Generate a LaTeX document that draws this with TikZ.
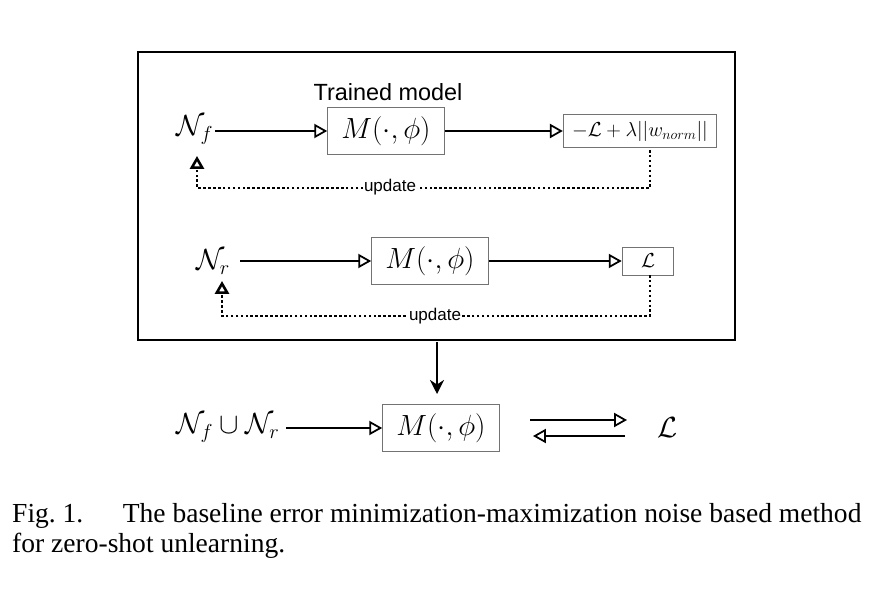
\documentclass[tikz,border=0pt]{standalone}
\usepackage{fontspec}
\usepackage{amsmath}
\setmainfont{Liberation Serif}
\setsansfont{Liberation Sans}
\usetikzlibrary{arrows.meta}
\begin{document}
\begin{tikzpicture}[x=0.03cm,y=-0.03cm,
  mbox/.style={draw=black!55,line width=0.8pt,minimum width=3.5cm,minimum height=1.4cm,font=\fontsize{25}{28}\selectfont},
  lbox/.style={draw=black!55,line width=0.8pt,inner sep=2pt},
  lab/.style={font=\fontsize{23}{26}\selectfont},
  arr/.style={line width=1.5pt,-{Triangle[open,length=11pt,width=12pt]}},
  dot/.style={line width=2.2pt,dotted,-{Triangle[open,length=11pt,width=12pt]}},
  upd/.style={font=\sffamily\fontsize{14.5}{16}\selectfont,fill=white,inner sep=1pt}]
\useasboundingbox (0,0) rectangle (874,596);
\draw[line width=1pt] (138,52) rectangle (735,340);
\node[font=\sffamily\fontsize{20}{22}\selectfont] (tm) at (388,92) {Trained model};
% row 1
\node[lab] (nf) at (195,130) {$\mathcal{N}_f$};
\node[mbox] (m1) at (386,131) {$M(\cdot,\phi)$};
\node[lbox,minimum width=4.6cm,minimum height=1cm,font=\fontsize{17}{20}\selectfont] (l1) at (640,131) {$-\mathcal{L}+\lambda||w_{norm}||$};
\draw[arr] (215,131) -- (m1.west);
\draw[arr] (m1.east) -- (l1.west);
\coordinate (c1) at (650,188);
\coordinate (c2) at (197,188);
\coordinate (t1) at (197,156);
\draw[dot] (650,150) -- (c1) -- (c2) -- (t1);
\node[upd] (u1) at (390,187) {update};
% row 2
\node[lab] (nr) at (213,262) {$\mathcal{N}_r$};
\node[mbox] (m2) at (430,261) {$M(\cdot,\phi)$};
\node[lbox,minimum width=1.55cm,minimum height=0.84cm,font=\fontsize{17}{20}\selectfont] (l2) at (648,261) {$\mathcal{L}$};
\draw[arr] (240,261) -- (m2.west);
\draw[arr] (m2.east) -- (l2.west);
\coordinate (c3) at (650,316);
\coordinate (c4) at (222,316);
\coordinate (t2) at (222,281);
\draw[dot] (650,275) -- (c3) -- (c4) -- (t2);
\node[upd] (u2) at (435,316) {update};
% down
\coordinate (d0) at (437,342);
\node[mbox] (m3) at (441,428) {$M(\cdot,\phi)$};
\draw[line width=1.8pt,-{Stealth[length=12pt,width=12pt]}] (d0) -- (437,394);
\node[lab] (nu) at (228,428) {$\mathcal{N}_f\cup\mathcal{N}_r$};
\draw[arr] (286,428) -- (m3.west);
\node[lab] (lf) at (668,428) {$\mathcal{L}$};
\coordinate (a1) at (530,420);
\coordinate (a2) at (627,420);
\coordinate (b1) at (625,436);
\coordinate (b2) at (533,436);
\draw[arr] (a1) -- (a2);
\draw[arr] (b1) -- (b2);
% caption
\node[anchor=west,font=\fontsize{23.5}{28}\selectfont,inner sep=0] (cap1) at (12,516) {Fig.~1.\hspace{1.1em} The baseline error minimization-maximization noise based method};
\node[anchor=west,font=\fontsize{23.5}{28}\selectfont,inner sep=0] (cap2) at (12,546) {for zero-shot unlearning.};
\end{tikzpicture}
\end{document}
